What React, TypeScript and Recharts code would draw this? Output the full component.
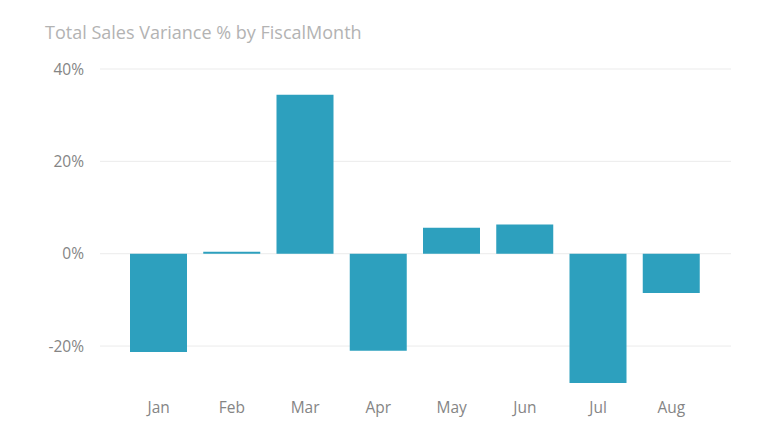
import React from 'react';
import { BarChart, Bar, XAxis, YAxis, CartesianGrid } from 'recharts';

const months = ['Jan', 'Feb', 'Mar', 'Apr', 'May', 'Jun', 'Jul', 'Aug'];
const variance = [-21.3, 0.4, 34.4, -21.0, 5.6, 6.3, -28.0, -8.5];
const yTicks = [-20, 0, 20, 40];

const data = months.map((m, i) => ({ month: m, value: variance[i] }));

const font = '"Open Sans", "Noto Sans", sans-serif';

export default function App() {
  return (
    <div style={{ position: 'absolute', left: 0, top: 0, width: 768, height: 432, background: '#fff', fontFamily: font }}>
      <div style={{ position: 'absolute', left: 45, top: 20, fontSize: 18, color: '#b3b3b3', whiteSpace: 'nowrap' }}>
        Total Sales Variance % by FiscalMonth
      </div>
      <BarChart
        width={768}
        height={432}
        data={data}
        margin={{ top: 69, right: 37, bottom: 19, left: 0 }}
        barSize={57}
      >
        <CartesianGrid horizontal vertical={false} stroke="#ebebeb" syncWithTicks />
        <XAxis
          dataKey="month"
          axisLine={false}
          tickLine={false}
          tickSize={0}
          tickMargin={19}
          height={30}
          padding={{ left: 22, right: 23 }}
          tick={{ fill: '#858585', fontSize: 15.5, fontFamily: font }}
        />
        <YAxis
          width={100}
          domain={[-28, 40]}
          ticks={yTicks}
          allowDataOverflow
          axisLine={false}
          tickLine={false}
          tickSize={0}
          tickMargin={16}
          tickFormatter={(v: number) => `${v}%`}
          tick={{ fill: '#858585', fontSize: 15.5, fontFamily: font }}
        />
        <Bar dataKey="value" fill="#2DA0BE" isAnimationActive={false} />
      </BarChart>
    </div>
  );
}
